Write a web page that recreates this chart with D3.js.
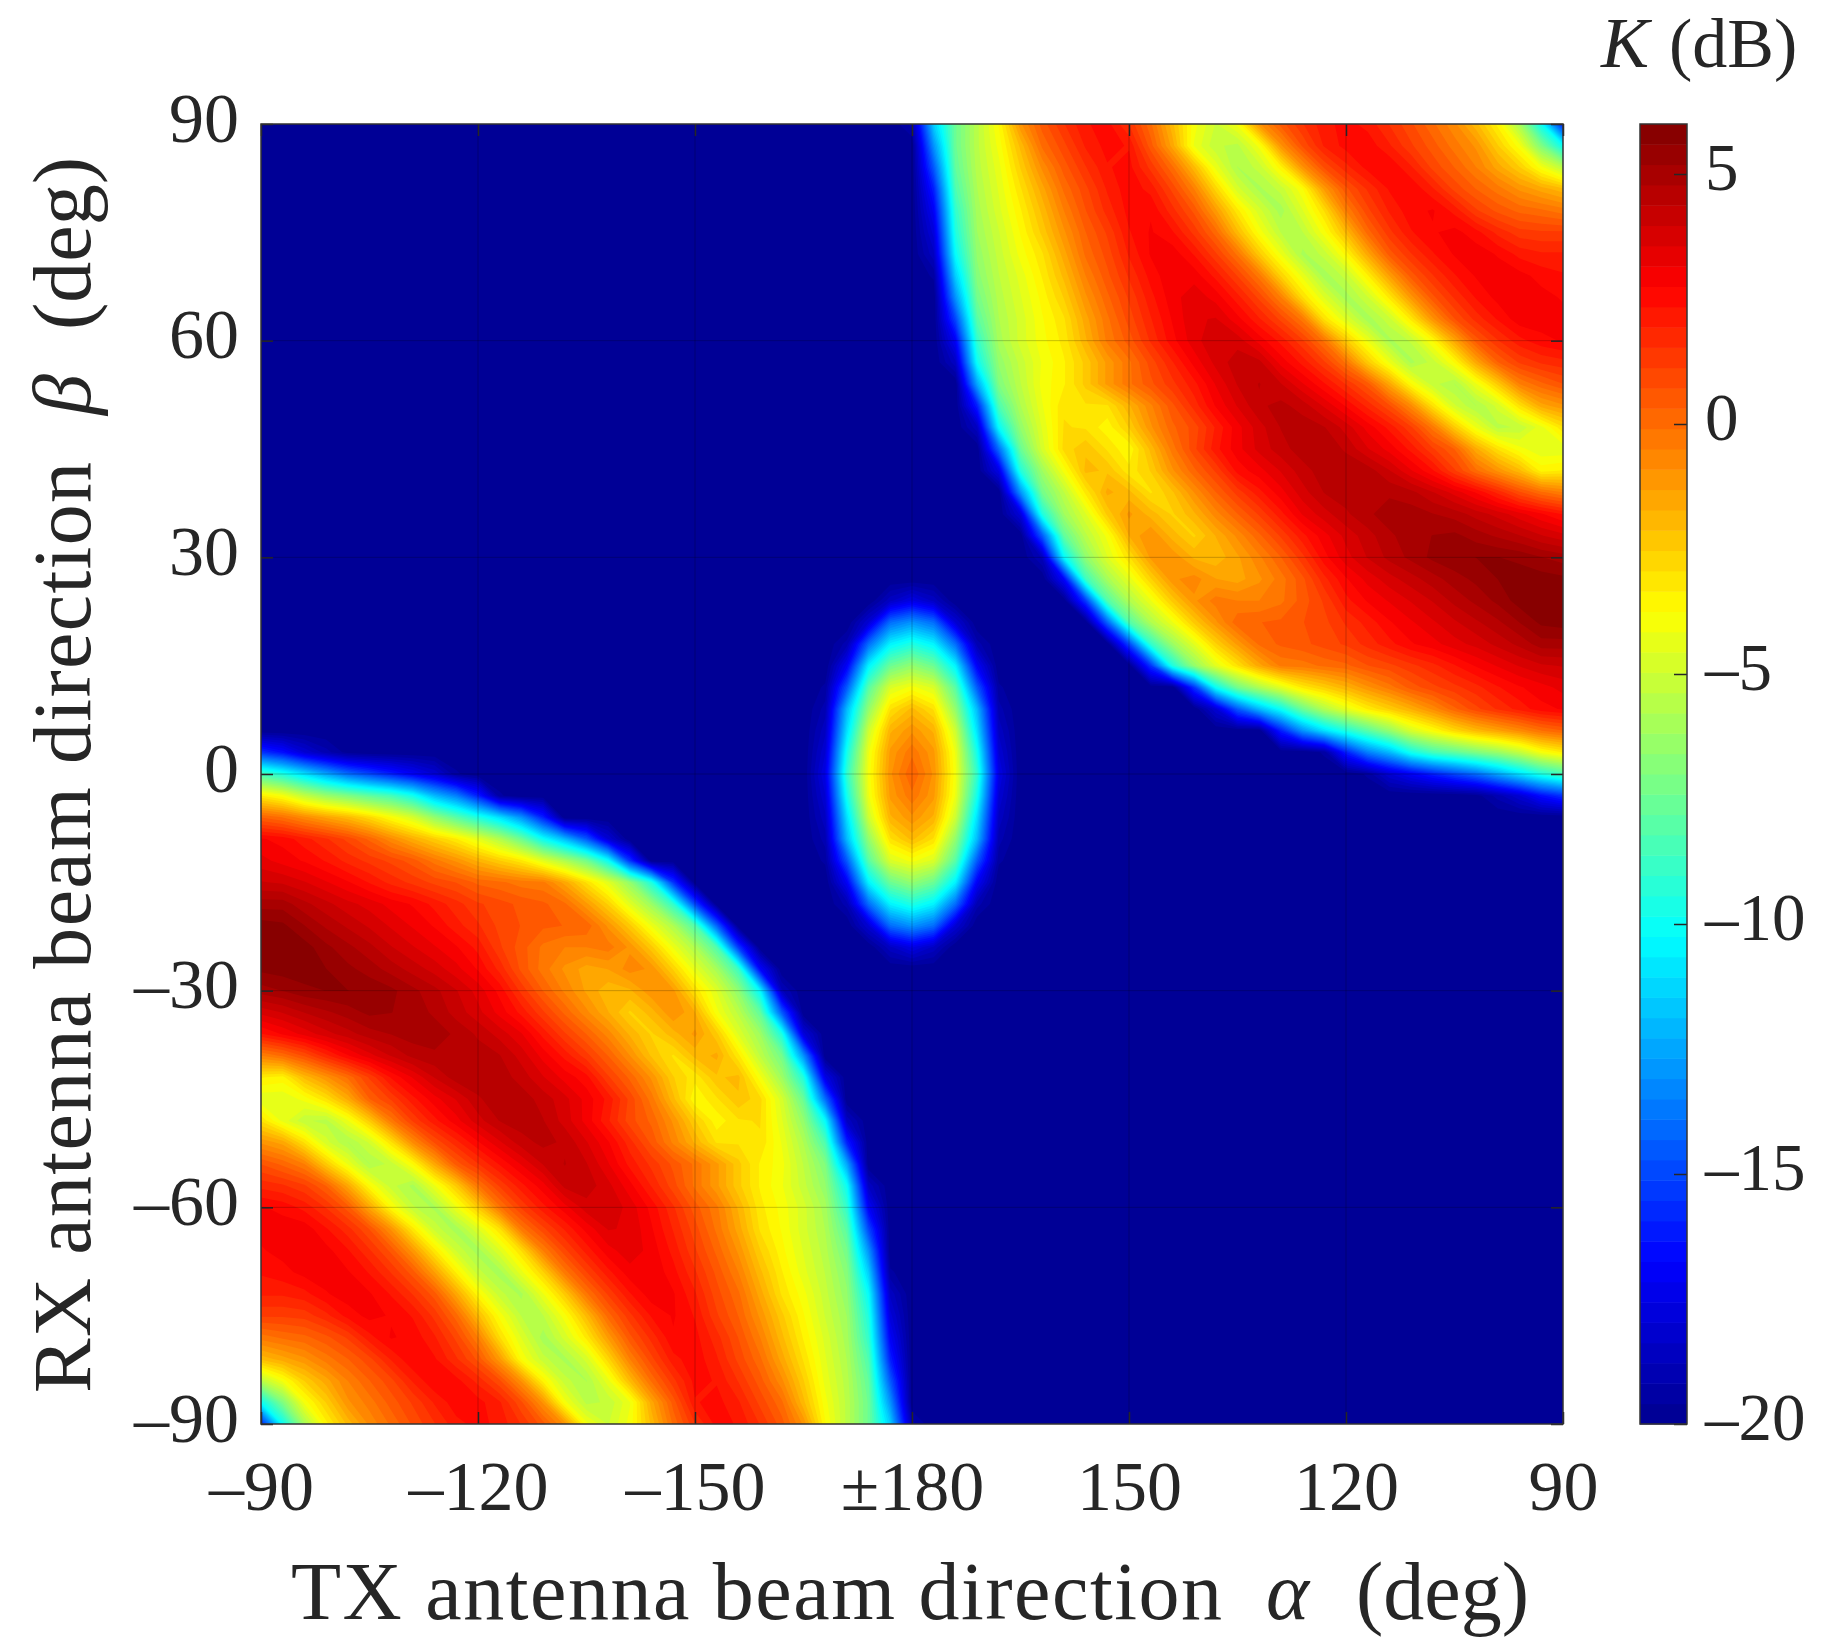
<!DOCTYPE html>
<html>
<head>
<meta charset="utf-8">
<script src="https://cdn.jsdelivr.net/npm/d3@7"></script>
<style>
  html, body { margin: 0; background: #fff; }
  text { font-family: "Liberation Serif", serif; fill: #262626; }
</style>
</head>
<body>
<svg id="chart" width="1824" height="1649"></svg>
<script>
const floorDb = -20;
const topDb = 6;
const stepDeg = 3;

// position across the plot, in degrees from the +-180 column in the middle
const columnDegs = d3.range(-90, 91, stepDeg);
const betaDegs = d3.range(90, -91, -stepDeg);

const xTickDegs = [-90, -60, -30, 0, 30, 60, 90];
const xTickLabels = ["–90", "–120", "–150", "±180", "150", "120", "90"];
const yTickDegs = [90, 60, 30, 0, -30, -60, -90];
const barTicks = [5, 0, -5, -10, -15, -20];

// K in dB, right half of the plot, beta 90, 87 ... -3.
// columns are 0, 3 ... 90 and right-aligned, missing ones on the left sit at the floor
const kUpperRight = [
  [-19,-11.5,-7.5,-5.5,-3.7,-1,.5,1.5,2.3,2.5,1.5,0,-2,-4,-5,-4,-1,.5,1.5,2.2,2.5,2.2,1.5,.8,0,-.8,-2,-3.5,-6,-10,-16],
  [-20,-13,-7.5,-5.5,-4,-2,0,1,2,2.5,2.3,.5,-1.5,-4.2,-5.3,-5.5,-4,-1,.8,2,2.5,2.6,2,1.2,.5,-.3,-1,-2.5,-4,-7,-10],
  [-14.5,-7.8,-5.6,-4.3,-2.5,-.8,.5,1.5,2.3,2.5,1.4,0,-2,-4.3,-5.8,-5.2,-3.5,-1,.8,1.8,2.5,2.7,2,1,.3,-.5,-1.5,-2.5,-4,-5.5],
  [-16,-8.3,-5.8,-4.5,-3,-1.5,0,1,2,2.6,2.2,1,-.5,-2.7,-4.8,-5.9,-5.2,-3.8,-1.2,.6,1.6,2.4,2.7,2,1,.3,-.3,-1,-1.5,-2],
  [-17,-9,-6,-4.7,-3.4,-2,-.5,.7,1.7,2.5,2.7,1.7,.6,-1.2,-3.2,-4.8,-6,-4.6,-2.9,-.5,1,2,2.6,2.8,2.2,1.2,.6,.2,0,-.3],
  [-17.8,-9.5,-6.2,-5,-3.7,-2.4,-1,.3,1.2,2.3,2.8,2.4,1.4,.1,-2,-3.9,-5.4,-5.4,-3.9,-2,.1,1.4,2.3,2.7,2.9,2.5,1.8,1.3,1.2,1.2],
  [-18.5,-10.2,-6.5,-5.2,-4,-3,-1.5,0,.9,2,2.8,3,2.3,1.2,-.2,-2.4,-4.2,-5.9,-5.2,-3.6,-1.5,.5,1.5,2.3,2.8,3,2.7,2.2,2,2],
  [-19.5,-11.5,-6.8,-5.4,-4.4,-3.3,-2,-.5,.6,1.6,2.5,3.1,3,2.2,1.1,-.3,-2.6,-4.3,-6,-5.2,-3.4,-1.3,.5,1.5,2.3,2.8,3,2.9,2.6,2.4],
  [-13,-7.3,-5.6,-4.6,-3.6,-2.5,-1,.2,1.2,2.2,3,3.4,3,2.1,1,-.5,-2.9,-4.6,-6,-5,-3.2,-1.1,.6,1.6,2.4,2.9,3,2.9,2.7],
  [-15,-8,-5.8,-4.8,-3.8,-3,-1.5,-.2,.9,1.9,2.8,3.5,3.6,2.9,2,1,-.3,-3,-4.6,-6,-5.1,-3.2,-1,.7,1.7,2.4,3,3,2.9],
  [-17,-9,-6,-4.8,-3.9,-3.2,-1.8,-.4,.5,1.6,2.6,3.4,3.9,3.8,3,2.2,1.2,-.2,-2.4,-4.2,-5.9,-5.3,-3.7,-1.5,.5,1.5,2.2,2.6,2.8],
  [-18.5,-10,-6.5,-5.2,-4.1,-3.4,-2.4,-1.2,-.2,.9,1.9,2.9,3.7,4.2,4.1,3,2.2,1.2,-.2,-2.4,-4.2,-5.9,-5.2,-3.7,-1.5,.3,1.2,1.6,1.8],
  [-12.5,-7,-5.4,-4,-3.4,-2.4,-1.2,-.2,.6,1.4,2.2,3.2,4,4.4,4,3.2,2.4,1.5,.5,-1.5,-3.7,-5.2,-5.8,-4.2,-2.4,-.5,.2,.7],
  [-16,-8.3,-5.8,-4.2,-3,-3,-3,-1.8,-.6,.6,1.7,2.8,3.6,4.3,4.5,4.2,3.5,2.7,1.8,.8,-.8,-3,-4.9,-5.8,-4.8,-3,-1.5,-1],
  [-18.5,-10.2,-6.5,-4.5,-2.9,-3,-3.6,-2.5,-1,.2,.9,2,3,3.8,4.4,4.6,4.4,3.8,3,2.2,1.2,-.3,-2.4,-4.2,-5.5,-5.3,-4.3,-3],
  [-14,-7.6,-4.8,-2.8,-2.2,-3,-3.7,-2,-.3,1,2.2,3,3.7,4.2,4.6,4.7,4.3,3.6,3,2.2,1.2,.3,-1.6,-3,-4,-4.5,-4.5],
  [-17.5,-9.4,-6.2,-4,-2,-2.2,-3.2,-2.5,-1,.2,1.2,2.5,3,3.6,4.2,4.6,4.7,4.6,4,3.2,2.4,1.2,0,-1,-2,-3.5,-3.3],
  [-13,-7.3,-5.4,-3.2,-1.6,-2,-3,-2.2,-.9,.3,1.3,2.2,3,3.8,4.4,4.6,4.7,4.7,4.5,4,3.4,2.7,1.8,.8,0,-.5],
  [-17.8,-9.5,-6.2,-4.6,-2.4,-1.2,-1.9,-2.6,-1.8,-.7,.3,1.2,2.2,3.2,3.8,4.3,4.7,5,5,4.8,4.6,4.2,3.8,3.3,2.8,2.3],
  [-14.5,-7.8,-5.5,-4,-1.7,-.9,-1.9,-2.6,-1.7,-.8,.2,1.2,2.2,3,3.7,4.2,4.7,5,5.2,5.3,5,4.7,4.4,4,3.7],
  [-18.7,-10.3,-6.6,-4.6,-3,-1.2,-1,-1.8,-2,-1.4,-.6,.3,1.4,2.6,3.4,4,4.5,4.9,5.3,5.5,5.6,5.6,5.5,5.2,5],
  [-16.8,-8.7,-6,-4.4,-2.6,-1,-.7,-1.3,-1.5,-1,-.3,.6,1.8,2.7,3.3,3.8,4.2,4.6,5,5.3,5.6,5.8,5.8,5.7],
  [-15.3,-8.2,-5.8,-4.2,-2.4,-1,-.3,-.5,-.5,-.2,.5,1.2,2.2,2.8,3.2,3.6,4,4.5,4.9,5.3,5.8,6,6],
  [-14.2,-8.2,-5.8,-4.2,-2.4,-1,.2,.3,.4,.7,1,1.6,2.1,2.7,3.1,3.5,3.9,4.3,4.7,5.2,5.7,5.8],
  [-15,-9,-6.3,-4.5,-2.6,-1.2,0,.4,.6,.9,1.2,1.7,2.2,2.7,3,3.4,3.7,4.1,4.5,5,5],
  [-15.5,-9.5,-6.5,-4.5,-3,-1.5,-.4,-.3,0,.2,.7,1,1.4,1.8,2.3,2.8,3.2,3.6,3.9,4],
  [-15.5,-10,-7.3,-5.8,-4.5,-3.2,-2.5,-1.8,-1,-.3,.5,1,1.4,1.8,2.3,2.7,3,3.3],
  [-18,-14.5,-12,-10,-7.5,-5.7,-4.4,-3.3,-2.5,-1.7,-.8,.2,1,1.6,2.1,2.6,2.8],
  [-16,-13,-11,-9.5,-8,-6.5,-4.8,-3.8,-2.8,-2,-1.4,-.8,-.1,.3],
  [-19.5,-16,-13.5,-12,-9.8,-8.5,-7.8,-7,-6.3,-5.3,-4,-3.3],
  [-19.5,-18,-17,-16,-15,-14,-12.5,-11,-9.5,-8.5],
  [-19.8,-19,-18,-16.5,-15.5]
];

// the small beam around the middle, columns -12, -9 ... 12, rows beta 24, 21 ... -24
const kCentre = [
  [-20,-20,-20,-18.5,-17.5,-18.5,-20,-20,-20],
  [-20,-20,-18,-14,-13,-14,-18,-20,-20],
  [-20,-19,-14,-10.5,-9.5,-10.5,-14,-19,-20],
  [-20,-17,-10.5,-7.5,-6.5,-7.5,-10.5,-17,-20],
  [-19.5,-14.5,-8,-4.7,-4,-4.7,-8,-14.5,-19.5],
  [-19,-12,-6.5,-3,-2,-3,-6.5,-12,-19],
  [-18.5,-11,-5,-1.8,-1,-1.8,-5,-11,-18.5],
  [-18,-9.8,-4.2,-1.2,-.2,-1.2,-4.2,-9.8,-18],
  [-17.5,-9,-4,-1,.3,-1,-4,-9,-17.5],
  [-18,-9.8,-4.2,-1.2,-.2,-1.2,-4.2,-9.8,-18],
  [-18.5,-11,-5,-1.8,-1,-1.8,-5,-11,-18.5],
  [-19,-12,-6.5,-3,-2,-3,-6.5,-12,-19],
  [-19.5,-14.5,-8,-4.7,-4,-4.7,-8,-14.5,-19.5],
  [-20,-17,-10.5,-7.5,-6.5,-7.5,-10.5,-17,-20],
  [-20,-19,-14,-10.5,-9.5,-10.5,-14,-19,-20],
  [-20,-20,-18,-14,-13,-14,-18,-20,-20],
  [-20,-20,-20,-18.5,-17.5,-18.5,-20,-20,-20]
];

const margin = { left: 261, top: 124, right: 1563, bottom: 1424 };
const barLeft = 1640, barRight = 1687;

const svg = d3.select("#chart");

const x = d3.scaleLinear().domain([-90, 90]).range([margin.left, margin.right]);
const y = d3.scaleLinear().domain([-90, 90]).range([margin.bottom, margin.top]);
const barY = d3.scaleLinear().domain([floorDb, topDb]).range([margin.bottom, margin.top]);

// matlab jet with 64 levels, both the plot and the colorbar are stepped
const levelCount = 64;
const jet = d3.scaleLinear()
  .domain([0, 1/8, 3/8, 5/8, 7/8, 1])
  .range(["#00008f", "#0000ff", "#00ffff", "#ffff00", "#ff0000", "#800000"]);
const levelWidth = (topDb - floorDb) / levelCount;
const levels = d3.range(levelCount).map(i => ({
  low: floorDb + i * levelWidth,
  color: jet((i + 0.5) / levelCount)
}));

// put everything on the full grid
function buildGrid() {
  const n = columnDegs.length;
  const grid = new Array(n * n).fill(floorDb);
  const put = (beta, col, v) => {
    const i = betaDegs.indexOf(beta) * n + columnDegs.indexOf(col);
    grid[i] = Math.max(grid[i], v);
  };
  kUpperRight.forEach((row, r) => {
    const beta = 90 - r * stepDeg;
    const skip = 31 - row.length;
    row.forEach((v, c) => {
      const col = (c + skip) * stepDeg;
      put(beta, col, v);
      // the picture is point symmetric, lower left is the upper right turned by 180
      put(-beta, -col, v);
    });
  });
  kCentre.forEach((row, r) => {
    row.forEach((v, c) => put(24 - r * stepDeg, -12 + c * stepDeg, v));
  });
  return grid;
}

svg.append("clipPath").attr("id", "plotClip")
  .append("rect")
  .attr("x", margin.left).attr("y", margin.top)
  .attr("width", margin.right - margin.left)
  .attr("height", margin.bottom - margin.top);

const plot = svg.append("g").attr("clip-path", "url(#plotClip)");

plot.append("rect")
  .attr("x", margin.left).attr("y", margin.top)
  .attr("width", margin.right - margin.left)
  .attr("height", margin.bottom - margin.top)
  .attr("fill", levels[0].color);

const n = columnDegs.length;
const contours = d3.contours()
  .size([n, n])
  .thresholds(levels.slice(1).map(d => d.low))(buildGrid());

// d3.contours puts grid values on half pixels
const gridPath = d3.geoPath(d3.geoTransform({
  point: function (cx, cy) {
    this.stream.point(x(-90 + (cx - 0.5) * stepDeg), y(90 - (cy - 0.5) * stepDeg));
  }
}));

plot.selectAll("path.band")
  .data(contours)
  .join("path")
  .attr("class", "band")
  .attr("d", gridPath)
  .attr("fill", (d, i) => levels[i + 1].color);

// faint grid over the image
const grid = svg.append("g").attr("stroke", "#000").attr("stroke-opacity", 0.22).attr("stroke-width", 1);
grid.selectAll("line.gx").data(xTickDegs.slice(1, -1)).join("line")
  .attr("x1", d => x(d)).attr("x2", d => x(d))
  .attr("y1", margin.top).attr("y2", margin.bottom);
grid.selectAll("line.gy").data(yTickDegs.slice(1, -1)).join("line")
  .attr("y1", d => y(d)).attr("y2", d => y(d))
  .attr("x1", margin.left).attr("x2", margin.right);

function styleAxis(g, size) {
  g.select(".domain").remove();
  g.selectAll(".tick line").attr("stroke", "#262626").attr("stroke-width", 1.5);
  g.selectAll(".tick text").attr("font-size", size || 70).attr("fill", "#262626")
    .attr("font-family", "Liberation Serif, serif");
}

svg.append("g")
  .attr("transform", `translate(0,${margin.bottom})`)
  .call(d3.axisBottom(x).tickValues(xTickDegs).tickFormat((d, i) => xTickLabels[i]).tickSize(-12))
  .call(styleAxis)
  .call(g => g.selectAll(".tick text").attr("dy", 0).attr("y", 86));

svg.append("g")
  .attr("transform", `translate(0,${margin.top})`)
  .call(d3.axisTop(x).tickValues(xTickDegs).tickFormat("").tickSize(-12))
  .call(styleAxis);

svg.append("g")
  .attr("transform", `translate(${margin.left},0)`)
  .call(d3.axisLeft(y).tickValues(yTickDegs).tickFormat(d => d < 0 ? "–" + (-d) : d).tickSize(-12))
  .call(styleAxis)
  .call(g => g.selectAll(".tick text").attr("dy", 0).attr("y", 17).attr("x", -22));

svg.append("g")
  .attr("transform", `translate(${margin.right},0)`)
  .call(d3.axisRight(y).tickValues(yTickDegs).tickFormat("").tickSize(-12))
  .call(styleAxis);

svg.append("rect")
  .attr("x", margin.left).attr("y", margin.top)
  .attr("width", margin.right - margin.left)
  .attr("height", margin.bottom - margin.top)
  .attr("fill", "none").attr("stroke", "#333").attr("stroke-width", 1.5);

// colorbar
svg.append("g").selectAll("rect")
  .data(levels)
  .join("rect")
  .attr("x", barLeft)
  .attr("width", barRight - barLeft)
  .attr("y", d => barY(d.low + levelWidth))
  .attr("height", d => barY(d.low) - barY(d.low + levelWidth) + 0.5)
  .attr("fill", d => d.color);

svg.append("g")
  .attr("transform", `translate(${barRight},0)`)
  .call(d3.axisRight(barY).tickValues(barTicks).tickFormat(d => d < 0 ? "–" + (-d) : d).tickSize(-13))
  .call(styleAxis, 67)
  .call(g => g.selectAll(".tick text").attr("dy", 0).attr("y", 15).attr("x", 18).attr("text-anchor", "start"));

svg.append("rect")
  .attr("x", barLeft).attr("y", margin.top)
  .attr("width", barRight - barLeft)
  .attr("height", margin.bottom - margin.top)
  .attr("fill", "none").attr("stroke", "#333").attr("stroke-width", 1.5);

// titles
const xTitle = svg.append("text").attr("x", 291).attr("y", 1619).attr("font-size", 82);
xTitle.append("tspan").text("TX antenna beam direction").attr("textLength", 931);
xTitle.append("tspan").attr("x", 1266).attr("font-style", "italic").text("α");
xTitle.append("tspan").attr("x", 1356).text("(deg)");

const yTitle = svg.append("text").attr("transform", "translate(90,1393) rotate(-90)").attr("font-size", 82);
yTitle.append("tspan").text("RX antenna beam direction").attr("textLength", 931);
yTitle.append("tspan").attr("x", 978).attr("font-style", "italic").text("β");
yTitle.append("tspan").attr("x", 1063).text("(deg)");

const barTitle = svg.append("text").attr("x", 1601).attr("y", 67).attr("font-size", 72);
barTitle.append("tspan").attr("font-style", "italic").text("K");
barTitle.append("tspan").attr("x", 1669).attr("font-size", 70).text("(dB)");
</script>
</body>
</html>
